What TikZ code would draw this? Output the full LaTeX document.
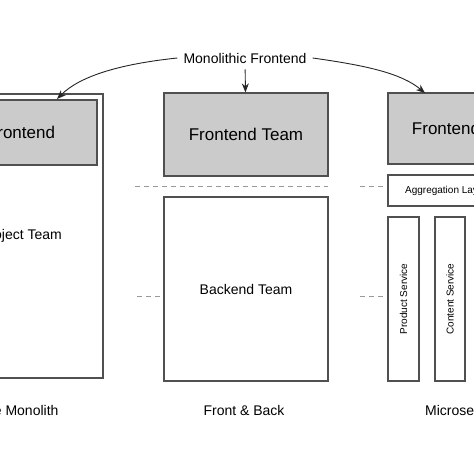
\documentclass[tikz,border=0pt]{standalone}
\usepackage{fontspec}
\setmainfont{Liberation Sans}
\usetikzlibrary{arrows.meta,calc}
\definecolor{boxgray}{HTML}{CBCBCB}
\definecolor{edgegray}{HTML}{505050}
\definecolor{dashgray}{HTML}{9A9A9A}

\begin{document}
\begin{tikzpicture}[x=1pt,y=1pt,
  box/.style={draw=edgegray,line width=1.2pt,inner sep=0pt,
    font=\fontsize{14}{16}\selectfont},
  febox/.style={box,fill=boxgray,font=\fontsize{17}{20}\selectfont},
  svcbox/.style={box,font=\fontsize{10}{12}\selectfont},
  lbl/.style={font=\fontsize{14}{16}\selectfont},
  sep/.style={dashgray,line width=0.8pt,dash pattern=on 5pt off 4pt},
  arr/.style={-{Stealth[length=9pt,width=7pt]},line width=0.9pt,black!85}]
  \useasboundingbox (0,0) rectangle (474,-474);
  \clip (0,0) rectangle (474,-474);

  % layer separators
  \draw[sep] (135,-186) -- (328,-186);
  \draw[sep] (360,-186) -- (388,-186);
  \draw[sep] (137,-296) -- (164,-296);
  \draw[sep] (360,-296) -- (388,-296);

  % the monolith
  \node[box,minimum width=164,minimum height=284] (mono) at (21,-236) {Project Team};
  \node[febox,minimum width=152,minimum height=65] (monofe) at (21,-132.5) {Frontend};
  \node[lbl] (monolbl) at (18,-410) {The Monolith};

  % front & back
  \node[febox,minimum width=164,minimum height=83] (feteam) at (246,-134.5) {Frontend Team};
  \node[box,minimum width=164,minimum height=184] (beteam) at (246,-289) {Backend Team};
  \node[lbl] (fblbl) at (244,-410) {Front \& Back};

  % microservices
  \node[febox,minimum width=116,minimum height=71] (msfe) at (446,-128.5) {Frontend};
  \node[svcbox,minimum width=116,minimum height=31] (agg) at (446,-190.5) {Aggregation Layer};
  \node[svcbox,rotate=90,minimum width=164,minimum height=31] (prod) at (403.5,-299) {Product Service};
  \node[svcbox,rotate=90,minimum width=164,minimum height=30] (cont) at (450,-299) {Content Service};
  \node[lbl] (mslbl) at (468,-410) {Microservices};

  % title and arrows
  \node[lbl,inner sep=6pt] (title) at (245,-58) {Monolithic Frontend};
  \coordinate (monohit) at (57,-99);
  \coordinate (mshit) at (425,-93);
  \draw[arr] (title.west) .. controls (120,-64) and (80,-76) .. (monohit);
  \draw[arr] (title.east) .. controls (370,-66) and (402,-74) .. (mshit);
  \draw[arr] (title) -- (feteam);
\end{tikzpicture}
\end{document}
